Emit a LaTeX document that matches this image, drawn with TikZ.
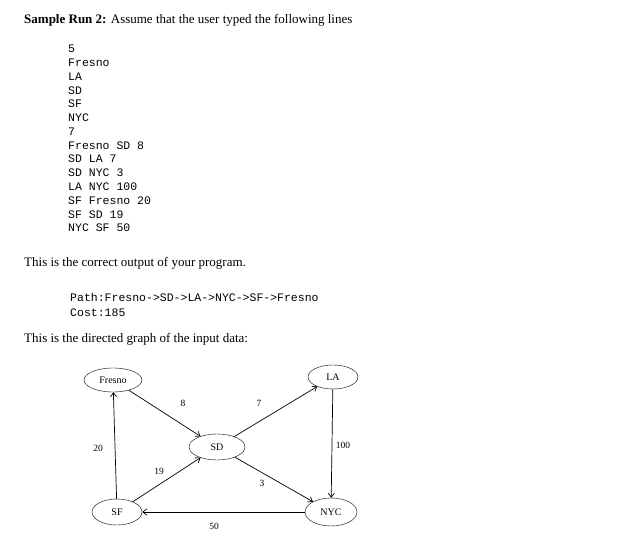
\documentclass[tikz,border=0pt]{standalone}
\usepackage{fontspec}
\setmainfont{Liberation Serif}
\setmonofont{Liberation Mono}
\usetikzlibrary{shapes.geometric,arrows.meta}
\begin{document}
\begin{tikzpicture}[x=1pt,y=-1pt,
  txt/.style={anchor=west,inner sep=0pt,font=\fontsize{13}{15}\selectfont},
  code/.style={anchor=west,inner sep=0pt,font=\ttfamily\fontsize{11.5}{13}\selectfont},
  vert/.style={draw,ellipse,inner sep=0pt,font=\fontsize{10}{11}\selectfont},
  edge/.style={-{Straight Barb[length=4pt,width=6pt]},line width=0.7pt},
  wt/.style={font=\fontsize{9.5}{10}\selectfont,inner sep=1pt}]
\useasboundingbox (0,0) rectangle (624,540);
\node[txt] (t1) at (24,20) {\textbf{Sample Run 2:} Assume that the user typed the following lines};
\foreach \s [count=\i from 0] in {5,Fresno,LA,SD,SF,NYC,7,Fresno SD 8,SD LA 7,SD NYC 3,LA NYC 100,SF Fresno 20,SF SD 19,NYC SF 50}
  \node[code] (c\i) at (68,{49+13.77*\i}) {\s};
\node[txt] (t2) at (24,263) {This is the correct output of your program.};
\node[code] (o1) at (70,297) {Path:Fresno->SD->LA->NYC->SF->Fresno};
\node[code] (o2) at (70,313) {Cost:185};
\node[txt] (t3) at (24,339) {This is the directed graph of the input data:};
\node[vert,minimum width=58pt,minimum height=24pt] (F) at (113,380) {Fresno};
\node[vert,minimum width=50pt,minimum height=24pt] (LA) at (333,377) {LA};
\node[vert,minimum width=56pt,minimum height=26pt] (SD) at (217,447) {SD};
\node[vert,minimum width=50pt,minimum height=26pt] (SF) at (117,512) {SF};
\node[vert,minimum width=52pt,minimum height=28pt] (NYC) at (331,512) {NYC};
\draw[edge] (F) -- (SD);
\draw[edge] (SD) -- (LA);
\draw[edge] (SD) -- (NYC);
\draw[edge] (LA) -- (NYC);
\draw[edge] (SF) -- (F);
\draw[edge] (SF) -- (SD);
\draw[edge] (NYC) -- (SF);
\node[wt] (w8) at (183,403) {8};
\node[wt] (w7) at (259,403) {7};
\node[wt] (w3) at (262,483) {3};
\node[wt] (w100) at (343,445) {100};
\node[wt] (w20) at (98,448) {20};
\node[wt] (w19) at (159,471) {19};
\node[wt] (w50) at (214,526) {50};
\end{tikzpicture}
\end{document}
